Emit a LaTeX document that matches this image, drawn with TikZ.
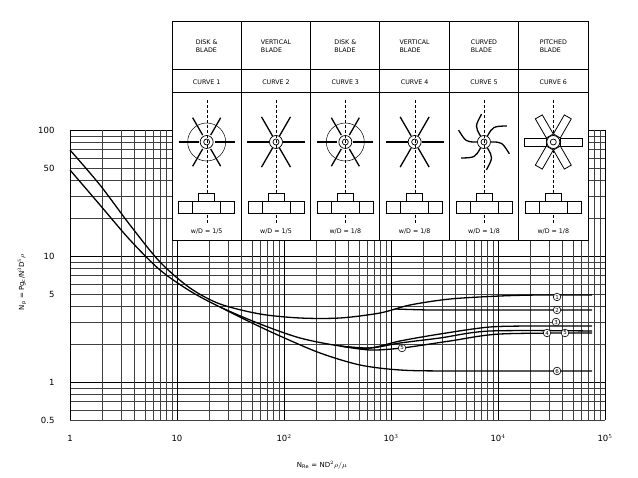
\documentclass[tikz,border=0pt]{standalone}
\usepackage{fontspec}
\setsansfont{DejaVu Sans}
\begin{document}
\begin{tikzpicture}[x=1pt,y=-1pt,
  gridln/.style={black!75,line width=0.45pt},
  majorln/.style={black,line width=0.9pt},
  curveln/.style={black,line width=1.3pt},
  tick/.style={font=\sffamily\fontsize{8.5}{9}\selectfont},
  hdr/.style={font=\sffamily\fontsize{6.3}{8}\selectfont,align=left},
  cno/.style={circle,draw,line width=0.6pt,inner sep=0.8pt,fill=white,font=\sffamily\fontsize{5.5}{6}\selectfont},
  blade/.style={line width=1.3pt}]
\useasboundingbox (0,0) rectangle (638,478);
% horizontal grid
\foreach \v in {0.5,0.6,0.7,0.8,0.9,2,3,4,5,6,7,8,9,20,30,40,50,60,70,80,90}
  \draw[gridln] (70,{382-126*log10(\v)}) -- (605,{382-126*log10(\v)});
\foreach \v in {1,10,100}
  \draw[majorln] (70,{382-126*log10(\v)}) -- (605,{382-126*log10(\v)});
% vertical grid
\foreach \d in {0,...,4}{
  \foreach \m in {2,...,9}
    \draw[gridln] ({70+107*(\d+log10(\m))},130) -- ({70+107*(\d+log10(\m))},420);
  \draw[majorln] ({70+107*\d},130) -- ({70+107*\d},420);
}
\draw[majorln] (605,130) -- (605,420);
% tick labels
\node[tick,anchor=east] (y100) at (58,130) {100};
\node[tick,anchor=east] (y50) at (58,168) {50};
\node[tick,anchor=east] (y10) at (58,256) {10};
\node[tick,anchor=east] (y5) at (58,294) {5};
\node[tick,anchor=east] (y1) at (58,382) {1};
\node[tick,anchor=east] (y05) at (58,420) {0.5};
\node[tick] (x1) at (70,438) {1};
\node[tick] (x10) at (177,438) {10};
\node[tick] (x2) at (284,438) {10$^2$};
\node[tick] (x3) at (391,438) {10$^3$};
\node[tick] (x4) at (498,438) {10$^4$};
\node[tick] (x5) at (605,438) {10$^5$};
\node[font=\sffamily\fontsize{7}{8}\selectfont] (xl) at (322,465) {N$_{\mathsf{Re}}$ = ND$^2\rho/\mu$};
\node[font=\sffamily\fontsize{7}{8}\selectfont,rotate=90] (yl) at (22,282) {N$_{\mathsf{p}}$ = Pg$_{\mathsf{c}}$/N$^3$D$^5\rho$};
% curves
\draw[curveln] plot[smooth] coordinates {(70,150) (100,185) (130,225) (160,262) (190,288) (220,304) (260,314) (300,318) (340,318) (380,313) (410,305) (450,299) (500,296) (540,295) (592,295)};
\draw[curveln] plot[smooth] coordinates {(395,309) (430,310) (480,310) (592,310)};
\draw[curveln] plot[smooth] coordinates {(70,170) (100,205) (130,240) (160,270) (190,291) (220,307) (260,324) (300,338) (340,346) (370,348) (400,341) (440,334) (490,327) (540,326) (592,326)};
\draw[curveln] plot[smooth] coordinates {(340,346) (370,348) (400,343) (440,338) (490,331) (592,331)};
\draw[curveln] plot[smooth] coordinates {(340,346) (370,350) (402,348) (450,341) (500,334) (592,333)};
\draw[curveln] plot[smooth] coordinates {(220,307) (250,322) (280,336) (320,353) (360,365) (400,370) (450,371) (592,371)};
\node[cno] (c1) at (557,297) {1};
\node[cno] (c2) at (557,310) {2};
\node[cno] (c3) at (556,322) {3};
\node[cno] (c4) at (547,333) {4};
\node[cno] (c5) at (565,333) {5};
\node[cno] (c6) at (557,371) {6};
\node[cno] (c5b) at (402,348) {5};
% table
\fill[white] (172,22) rectangle (588,241);
\draw[line width=1pt] (172,22) rectangle (588,241);
\draw[line width=1pt] (172,70) -- (588,70) (172,93) -- (588,93);
\foreach \i in {1,...,5} \draw[line width=1pt] ({172+69.33*\i},22) -- ({172+69.33*\i},241);
\foreach \i/\a/\b/\w in {0/DISK \&/BLADE/5,1/VERTICAL/BLADE/5,2/DISK \&/BLADE/8,3/VERTICAL/BLADE/8,4/CURVED/BLADE/8,5/PITCHED/BLADE/8}{
  \pgfmathsetmacro\cx{172+69.33*(\i+0.5)}
  \node[hdr] (h\i) at (\cx,46) {\a\\\b};
  \node[hdr] (k\i) at (\cx,82) {CURVE \the\numexpr\i+1\relax};
  \node[hdr] (w\i) at (\cx,231) {w/D = 1/\w};
  \draw[densely dashed,line width=0.3pt] (\cx,100) -- (\cx,224);
  \draw[line width=0.7pt] (\cx,142) circle (6.5) (\cx,142) circle (3);
  \draw[line width=0.8pt,fill=white] ({\cx-28},201) rectangle ({\cx+28},213) ({\cx-8},193) rectangle ({\cx+8},201);
  \draw[line width=0.8pt] ({\cx-14},201) -- ({\cx-14},213) ({\cx+14},201) -- ({\cx+14},213);
}
% blades
\foreach \i in {0,2}{
  \pgfmathsetmacro\cx{172+69.33*(\i+0.5)}
  \draw[line width=0.5pt] (\cx,142) circle (19);
  \foreach \a in {0,60,...,300}
    \draw[blade] ({\cx+8*cos(\a)},{142+8*sin(\a)}) -- ({\cx+28*cos(\a)},{142+28*sin(\a)});
}
\foreach \i in {1,3}{
  \pgfmathsetmacro\cx{172+69.33*(\i+0.5)}
  \foreach \a in {0,60,...,300}
    \draw[blade] ({\cx+7*cos(\a)},{142+7*sin(\a)}) -- ({\cx+29*cos(\a)},{142+29*sin(\a)});
}
\pgfmathsetmacro\cx{172+69.33*4.5}
\foreach \a in {0,60,...,300}
  \draw[blade] ({\cx+7*cos(\a)},{142+7*sin(\a)}) .. controls ({\cx+18*cos(\a)},{142+18*sin(\a)}) .. ({\cx+28*cos(\a+25)},{142+28*sin(\a+25)});
\pgfmathsetmacro\cx{172+69.33*5.5}
\foreach \a in {0,60,...,300}
  \draw[line width=0.8pt,fill=white,rotate around={\a:(\cx,142)}] ({\cx+7},138) rectangle ({\cx+29},146);
\draw[line width=0.7pt,fill=white] (\cx,142) circle (6.5) (\cx,142) circle (3);
\end{tikzpicture}
\end{document}
